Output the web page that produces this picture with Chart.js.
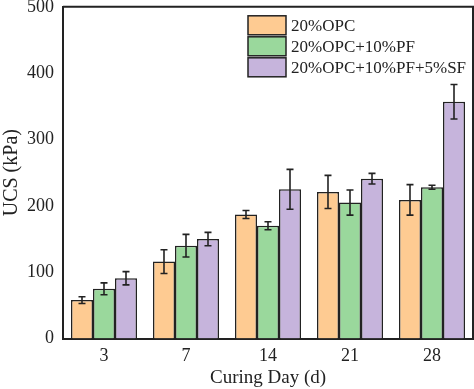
<!DOCTYPE html>
<html>
<head>
<meta charset="utf-8">
<script src="https://cdn.jsdelivr.net/npm/chart.js@4/dist/chart.umd.min.js"></script>
<style>
  html, body { margin: 0; padding: 0; background: #fff; overflow: hidden; }
  #wrap { width: 474px; height: 389px; overflow: hidden; position: relative; }
  #ucsChart { position: absolute; left: 0; top: -6px; }
</style>
</head>
<body>
<div id="wrap"><canvas id="ucsChart" width="474" height="395"></canvas></div>
<script>
// curing days (x categories)
var days = ["3", "7", "14", "21", "28"];
var seriesNames = ["20%OPC", "20%OPC+10%PF", "20%OPC+10%PF+5%SF"];

// UCS means (kPa)
var opc = [58, 116, 187, 221, 209];
var opcPf = [75, 140, 170, 205, 228];
var opcPfSf = [91, 150, 225, 241, 357];

// standard deviations (kPa)
var opcErr = [5, 18, 6, 25, 23];
var opcPfErr = [9, 17, 6, 19, 3];
var opcPfSfErr = [10, 10, 30, 8, 26];

var yTicks = [0, 100, 200, 300, 400, 500];

var fills = ["#fecb92", "#9ad89c", "#c6b4dc"];
var ink = "#222222";
var serif = "'Liberation Serif', 'Times New Roman', serif";

// draws error bars, the top/right frame and the legend
var extras = {
    id: "extras",
    afterDatasetsDraw: function(chart){
        var ctx = chart.ctx;
        var yScale = chart.scales.y;
        ctx.save();
        ctx.strokeStyle = ink;
        ctx.lineWidth = 1.6;
        chart.data.datasets.forEach(function(ds, i){
            var meta = chart.getDatasetMeta(i);
            meta.data.forEach(function(bar, j){
                var v = ds.data[j], e = ds.errors[j];
                var x = bar.x;
                var yHi = yScale.getPixelForValue(v + e);
                var yLo = yScale.getPixelForValue(v - e);
                ctx.beginPath();
                ctx.moveTo(x, yHi); ctx.lineTo(x, yLo);
                ctx.moveTo(x - 3.5, yHi); ctx.lineTo(x + 3.5, yHi);
                ctx.moveTo(x - 3.5, yLo); ctx.lineTo(x + 3.5, yLo);
                ctx.stroke();
            });
        });
        ctx.restore();
    },
    afterDraw: function(chart){
        var ctx = chart.ctx;
        var a = chart.chartArea;
        ctx.save();
        ctx.strokeStyle = ink;
        ctx.lineWidth = 2;
        ctx.beginPath();
        ctx.moveTo(a.left, a.top);
        ctx.lineTo(a.right, a.top);
        ctx.lineTo(a.right, a.bottom);
        ctx.stroke();

        // legend, placed relative to the plot frame
        var bx = a.left + 185, by = a.top + 9, bw = 38, bh = 19, step = 21;
        ctx.font = "17px " + serif;
        ctx.textBaseline = "middle";
        ctx.lineWidth = 1.5;
        chart.data.datasets.forEach(function(ds, i){
            var y = by + i * step;
            ctx.fillStyle = ds.backgroundColor;
            ctx.fillRect(bx, y, bw, bh);
            ctx.strokeStyle = ink;
            ctx.strokeRect(bx, y, bw, bh);
            ctx.fillStyle = ink;
            ctx.fillText(ds.label, bx + 43, y + bh / 2 + 1);
        });
        ctx.restore();
    }
};

var ctx = document.getElementById("ucsChart");
new Chart(ctx, {
    type: "bar",
    data: {
        labels: days,
        datasets: [
            { label: seriesNames[0], data: opc, errors: opcErr, backgroundColor: fills[0] },
            { label: seriesNames[1], data: opcPf, errors: opcPfErr, backgroundColor: fills[1] },
            { label: seriesNames[2], data: opcPfSf, errors: opcPfSfErr, backgroundColor: fills[2] }
        ].map(function(d){
            d.borderColor = ink;
            d.borderWidth = 1.5;
            d.categoryPercentage = 0.805;
            d.barPercentage = 1.0;
            return d;
        })
    },
    options: {
        responsive: false,
        animation: false,
        layout: { padding: { top: 0, right: 1, left: 0, bottom: 0 } },
        plugins: {
            legend: { display: false },
            tooltip: { enabled: false }
        },
        scales: {
            x: {
                grid: { display: false, drawTicks: true, tickLength: 6, tickColor: ink },
                border: { display: true, color: ink, width: 2 },
                ticks: { color: ink, font: { family: serif, size: 18 }, padding: 1 },
                title: { display: true, text: "Curing Day (d)", color: ink, font: { family: serif, size: 19 }, padding: { top: -2, bottom: 0 } }
            },
            y: {
                min: 0,
                max: 500,
                afterBuildTicks: function(axis){
                    axis.ticks = yTicks.map(function(v){ return { value: v }; });
                },
                grid: { display: false, drawTicks: true, tickLength: 7, tickColor: ink },
                border: { display: true, color: ink, width: 2 },
                ticks: { color: ink, font: { family: serif, size: 18 }, padding: 2 },
                title: { display: true, text: "UCS (kPa)", color: ink, font: { family: serif, size: 20 }, padding: { top: 0, bottom: 1 } }
            }
        }
    },
    plugins: [extras]
});
</script>
</body>
</html>
